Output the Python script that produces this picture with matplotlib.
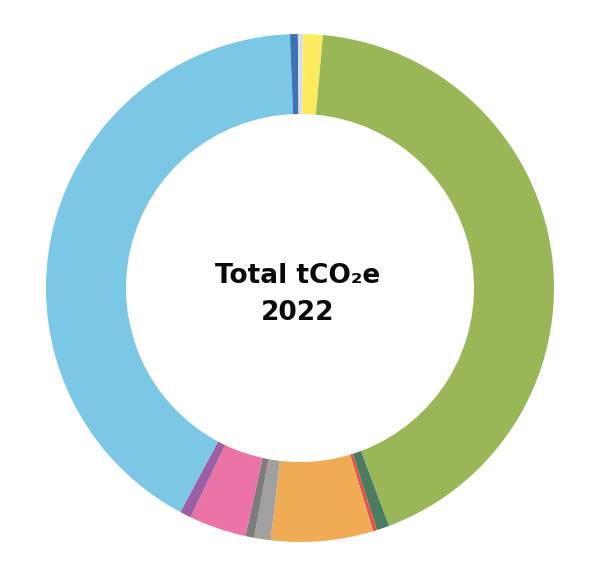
import matplotlib
matplotlib.use("Agg")
import matplotlib.pyplot as plt

categories = ["Yellow", "Green", "Dark green", "Red", "Orange", "Light grey",
              "Dark grey", "Pink", "Purple", "Light blue", "Dark blue", "Lavender"]
values = [1.28, 42.9, 0.8, 0.25, 6.5, 1.05, 0.55, 3.65, 0.72, 41.6, 0.5, 0.3]
colors = ["#FDEB5F", "#9AB757", "#4A7C62", "#E8514A", "#F0AB55", "#A0A0A0",
          "#7C7C7C", "#EB72A4", "#9C5FA6", "#7AC7E6", "#3F72B5", "#D6DCEB"]
title_lines = ["Total tCO\u2082e", "2022"]

fig = plt.figure(figsize=(6.0, 5.7), dpi=100)
ax = fig.add_axes([0, 0, 1, 1])

cx, cy = 300, 570 - 288
ax.pie(values, colors=colors, radius=254, center=(cx, cy), startangle=89.4,
       counterclock=False, wedgeprops=dict(width=80, linewidth=0), frame=True)
ax.set_xlim(0, 600)
ax.set_ylim(0, 570)
ax.set_aspect("equal")
ax.axis("off")

ax.text(cx - 2, 570 - 276, title_lines[0], ha="center", va="center", fontsize=19,
        fontweight="bold", family=["DejaVu Sans"], color="#0a0a0a")
ax.text(cx - 2, 570 - 313, title_lines[1], ha="center", va="center", fontsize=19,
        fontweight="bold", family=["DejaVu Sans"], color="#0a0a0a")

fig.savefig("out.png", dpi=100)
